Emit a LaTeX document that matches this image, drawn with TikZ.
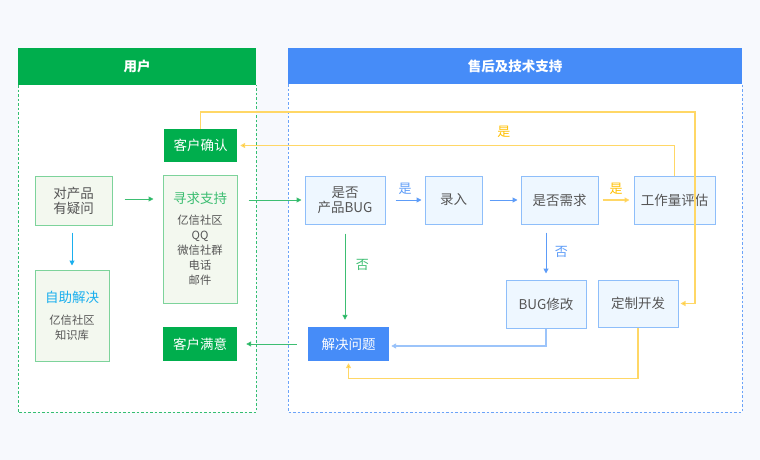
\documentclass[tikz,border=0pt]{standalone}
\usepackage{fontspec}
\setmainfont{Noto Sans CJK SC}
\usetikzlibrary{arrows.meta,calc}
\definecolor{bgc}{HTML}{F7F9FD}
\definecolor{gHead}{HTML}{00AE4D}
\definecolor{bHead}{HTML}{468CF8}
\definecolor{gLine}{HTML}{3DBE72}
\definecolor{gBord}{HTML}{7DD39B}
\definecolor{gFill}{HTML}{F3F8EF}
\definecolor{bBord}{HTML}{8EBEFA}
\definecolor{bFill}{HTML}{EEF7FF}
\definecolor{bLine}{HTML}{5D9CF8}
\definecolor{bLineL}{HTML}{9CC4FA}
\definecolor{yLine}{HTML}{FFD766}
\definecolor{yTip}{HTML}{FFC000}
\definecolor{cyanT}{HTML}{1AAFEE}
\definecolor{txt}{HTML}{555555}
\newcommand{\sbt}[1]{{\fontsize{11.3}{13.6}\selectfont #1}}
\tikzset{
  gbox/.style={draw=gBord, line width=1pt, fill=gFill, text=txt, minimum width=#1, inner sep=0pt, align=center, font=\fontsize{13.5}{16}\selectfont},
  bbox/.style={draw=bBord, line width=1pt, fill=bFill, text=txt, minimum width=#1, inner sep=0pt, align=center, font=\fontsize{13.5}{16}\selectfont},
  gsolid/.style={fill=gHead, text=white, minimum width=#1, minimum height=34pt, inner sep=0pt, font=\fontsize{13.5}{16}\selectfont},
  bsolid/.style={fill=bHead, text=white, minimum width=#1, minimum height=34pt, inner sep=0pt, font=\fontsize{13.5}{16}\selectfont},
  garr/.style={draw=gLine, line width=1pt, -{Triangle[width=5pt,length=5pt,fill=gHead]}},
  barr/.style={draw=bLine, line width=1pt, -{Triangle[width=5pt,length=5pt]}},
  blarr/.style={draw=bLineL, line width=1.3pt, -{Triangle[width=5pt,length=5pt,fill=bLine]}},
  carr/.style={draw=cyanT, line width=1pt, -{Triangle[width=5pt,length=5pt]}},
  yarr/.style={draw=yLine, line width=1.2pt, -{Triangle[width=5pt,length=5pt,fill=yTip]}},
  lbl/.style={font=\fontsize{13}{15}\selectfont}
}
\begin{document}
\begin{tikzpicture}[x=1pt,y=-1pt]
\useasboundingbox (0,0) rectangle (760,460);
\fill[bgc] (0,0) rectangle (760,460);
% panels
\fill[white] (18,48) rectangle (256,412);
\fill[white] (288,48) rectangle (742,412);
\draw[gHead!80, dash pattern=on 2.5pt off 2pt, line width=0.8pt] (18,85) -- (18,412) -- (256,412) -- (256,85);
\draw[bHead!80, dash pattern=on 2.5pt off 2pt, line width=0.8pt] (288,84) -- (288,412) -- (742,412) -- (742,84);
\node[fill=gHead, minimum width=238pt, minimum height=37pt, inner sep=0pt, text=white, font=\bfseries\fontsize{13.5}{16}\selectfont] (huser) at (137,66.5) {用户};
\node[fill=bHead, minimum width=454pt, minimum height=36pt, inner sep=0pt, text=white, font=\bfseries\fontsize{13.5}{16}\selectfont] (hsup) at (515,66) {售后及技术支持};
% nodes
\node[gbox=77pt, minimum height=49pt] (q) at (73.5,200.5) {对产品\\[-1pt]有疑问};
\node[gbox=74pt, minimum height=91pt] (selfh) at (72,315.5) {\textcolor{cyanT}{自助解决}\\[6pt]\sbt{亿信社区}\\[-1pt]\sbt{知识库}};
\node[gbox=74pt, minimum height=128pt] (seek) at (200,239) {\textcolor{gLine}{寻求支持}\\[5pt]\sbt{亿信社区}\\[-1pt]\sbt{QQ}\\[-1pt]\sbt{微信社群}\\[-1pt]\sbt{电话}\\[-1pt]\sbt{邮件}};
\node[gsolid=73pt, minimum height=33pt] (confirm) at (200.5,145.5) {客户确认};
\node[gsolid=74pt] (satis) at (200,344) {客户满意};
\node[bbox=80pt, minimum height=48pt] (bug) at (345,200) {是否\\[-1pt]产品BUG};
\node[bbox=57pt, minimum height=48pt] (rec) at (453.5,200) {录入};
\node[bbox=77pt, minimum height=48pt] (req) at (559.5,200) {是否需求};
\node[bbox=81pt, minimum height=48pt] (eval) at (674.5,200) {工作量评估};
\node[bbox=80pt, minimum height=48pt] (fix) at (546,304) {BUG修改};
\node[bbox=80pt, minimum height=47pt] (custom) at (638,303.5) {定制开发};
\node[bsolid=81pt] (solve) at (348.5,344) {解决问题};
% connectors
\draw[garr, shorten <=12pt, shorten >=9pt] (q.east |- 0,199) -- (seek.west |- 0,199);
\draw[carr, shorten <=7pt, shorten >=4pt] (selfh.north |- q.south) -- (selfh.north);
\draw[garr, shorten <=11pt, shorten >=3pt] (seek.east |- bug.west) -- (bug.west);
\draw[barr, shorten <=10pt, shorten >=3pt] (bug.east) -- node[lbl, text=bLine, above=2pt] {是} (rec.west);
\draw[barr, shorten <=7pt, shorten >=3pt] (rec.east) -- (req.west);
\draw[yarr, shorten <=4pt, shorten >=4pt] (req.east) -- node[lbl, text=yTip, above=2pt] {是} (eval.west);
\draw[barr, shorten <=8pt, shorten >=6pt] (fix.north |- req.south) -- node[lbl, text=bLine, right=5pt] {否} (fix.north);
\draw[garr, shorten <=9pt, shorten >=7pt] (bug.south) -- node[lbl, text=gLine, right=7pt, pos=0.4] {否} (bug.south |- solve.north);
\draw[garr, shorten <=11pt, shorten >=9pt] (solve.west) -- (satis.east);
\draw[blarr, shorten >=2pt] (fix.south) |- ([yshift=-2pt]solve.east);
\coordinate (cbot) at ($(solve.south)+(0,17)$);
\draw[yarr, shorten >=2pt] (custom.south) |- (cbot) -- (solve.south);
\draw[yarr, shorten >=3pt] (eval.north) |- node[lbl, text=yTip, above=4pt, pos=0.695] {是} (confirm.east);
\coordinate (ctop) at (695,112);
\draw[draw=yLine, line width=1.1pt, -{Triangle[width=5pt,length=5pt,fill=yTip]}, shorten >=2pt] (confirm.north) |- (ctop) |- (custom.east);
\end{tikzpicture}
\end{document}
